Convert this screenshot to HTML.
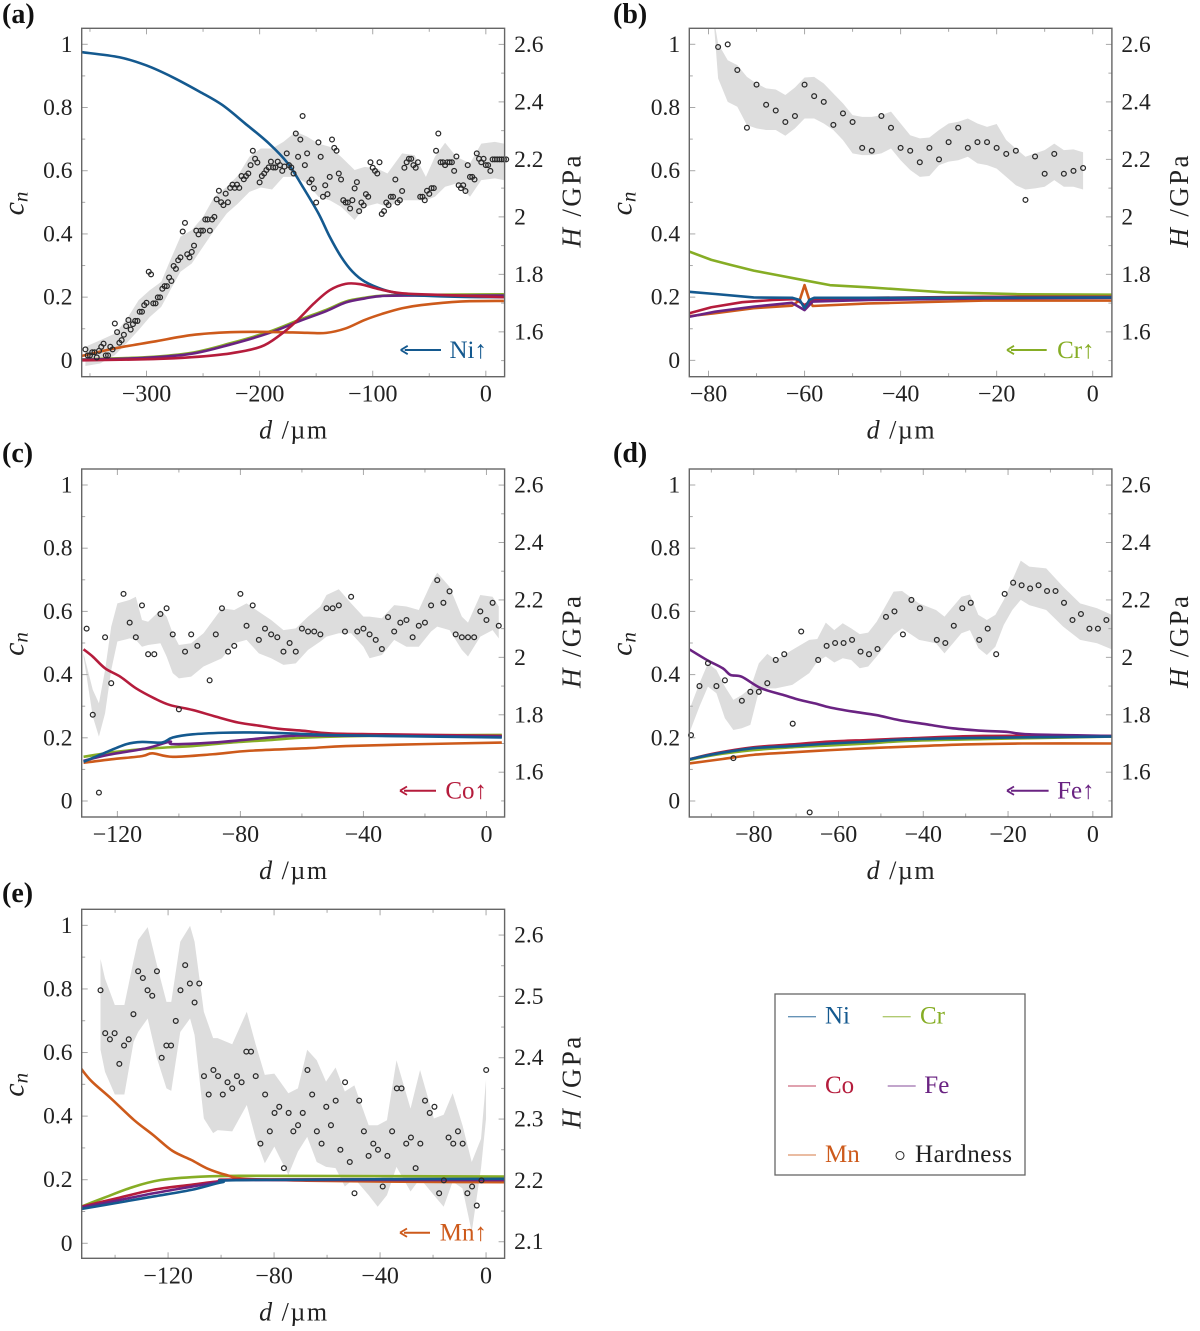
<!DOCTYPE html>
<html>
<head>
<meta charset="utf-8">
<title>Composition and hardness profiles</title>
<style>
html,body{margin:0;padding:0;background:#fff;}
svg{display:block;filter:blur(0.35px);}
text{font-family:"Liberation Serif",serif;fill:#222;}
</style>
</head>
<body>
<svg id="chart" xmlns="http://www.w3.org/2000/svg" width="1200" height="1331" viewBox="0 0 1200 1331"></svg>
<script>
/* ---------- shared tick data ---------- */
const cnTicks=[0,0.2,0.4,0.6,0.8,1];
const cnTickLabels=['0','0.2','0.4','0.6','0.8','1'];
const cnMinorTicks=[0.1,0.3,0.5,0.7,0.9];
const hTicks=[1.6,1.8,2,2.2,2.4,2.6];
const hTickLabels=['1.6','1.8','2','2.2','2.4','2.6'];
const hMinorTicks=[1.5,1.7,1.9,2.1,2.3,2.5];
const hTicksE=[2.1,2.2,2.3,2.4,2.5,2.6];
const hTickLabelsE=['2.1','2.2','2.3','2.4','2.5','2.6'];
const hMinorTicksE=[2.15,2.25,2.35,2.45,2.55];

/* ---------- panel a ---------- */
const xTicksA=[-300,-200,-100,0];
const xMinorA=[-350,-250,-150,-50];
const hardA=[1.539,1.518,1.518,1.529,1.529,1.511,1.534,1.548,1.559,1.518,1.518,1.548,1.539,1.629,1.599,1.562,1.571,1.590,1.620,1.641,1.608,1.627,1.638,1.638,1.670,1.670,1.693,1.701,1.809,1.800,1.699,1.699,1.720,1.720,1.750,1.759,1.759,1.789,1.777,1.829,1.819,1.849,1.859,1.949,1.979,1.870,1.859,1.878,1.900,1.952,1.939,1.952,1.952,1.991,1.991,1.952,1.991,2.000,2.061,2.091,2.051,2.041,2.081,2.051,2.101,2.112,2.101,2.112,2.101,2.142,2.131,2.142,2.151,2.180,2.230,2.202,2.189,2.120,2.142,2.151,2.163,2.172,2.192,2.172,2.172,2.192,2.180,2.160,2.175,2.221,2.180,2.172,2.151,2.290,2.209,2.269,2.351,2.180,2.221,2.120,2.130,2.099,2.050,2.259,2.209,2.070,2.110,2.079,2.139,2.269,2.240,2.230,2.151,2.130,2.058,2.050,2.050,2.029,2.058,2.099,2.121,2.020,2.050,2.040,2.079,2.070,2.190,2.171,2.160,2.151,2.190,2.010,2.020,2.050,2.041,2.070,2.070,2.130,2.050,2.058,2.090,2.171,2.190,2.202,2.202,2.180,2.171,2.190,2.070,2.070,2.058,2.091,2.080,2.100,2.100,2.230,2.290,2.190,2.190,2.180,2.190,2.190,2.190,2.160,2.210,2.110,2.100,2.110,2.090,2.180,2.139,2.139,2.130,2.221,2.202,2.190,2.202,2.180,2.180,2.160,2.200,2.200,2.200,2.200,2.200,2.200,2.200];
const bandDA=[-354,-341,-328,-318,-307,-297,-287,-279,-270,-260,-250,-240,-229,-219,-209,-199,-189,-179,-168,-158,-148,-138,-128,-116,-107,-96,-87,-74,-63,-53,-45,-36,-26,-14,-4,8,16];
const bandUpA=[1.548,1.571,1.594,1.641,1.710,1.745,1.774,1.849,1.931,1.954,2.000,2.070,2.105,2.145,2.209,2.238,2.238,2.261,2.296,2.279,2.255,2.244,2.209,2.163,2.174,2.168,2.151,2.221,2.215,2.139,2.209,2.258,2.209,2.186,2.255,2.261,2.255];
const bandLoA=[1.481,1.490,1.519,1.559,1.606,1.652,1.687,1.745,1.809,1.838,1.896,1.954,2.012,2.047,2.087,2.102,2.095,2.139,2.139,2.116,2.070,2.058,2.035,1.989,2.035,2.047,2.035,2.058,2.058,2.058,2.070,2.105,2.116,2.070,2.128,2.134,2.128];
const dNiA=[-357,-324,-300,-277,-253,-233,-213,-192,-175,-162,-148,-138,-128,-118,-107,-90,-74,-57,-23,16];
const cNiA=[0.975,0.959,0.933,0.896,0.85,0.808,0.75,0.687,0.623,0.55,0.465,0.391,0.328,0.281,0.249,0.223,0.21,0.205,0.201,0.2];
const dCrA=[-357,-300,-260,-226,-192,-165,-141,-124,-107,-90,-57,16];
const cCrA=[0.003,0.01,0.024,0.054,0.09,0.128,0.16,0.186,0.198,0.205,0.207,0.209];
const dCoA=[-357,-294,-260,-226,-199,-182,-168,-152,-138,-124,-111,-94,-74,-40,16];
const cCoA=[0,0.004,0.01,0.022,0.043,0.08,0.122,0.18,0.222,0.242,0.241,0.225,0.212,0.207,0.2];
const dFeA=[-357,-300,-260,-226,-192,-165,-141,-124,-107,-90,-57,16];
const cFeA=[0.002,0.008,0.021,0.05,0.086,0.124,0.156,0.183,0.196,0.204,0.205,0.205];
const dMnA=[-357,-328,-294,-260,-226,-192,-158,-141,-124,-107,-90,-74,-57,-23,16];
const cMnA=[0.014,0.038,0.059,0.08,0.089,0.09,0.087,0.087,0.101,0.128,0.149,0.165,0.175,0.186,0.188];

/* ---------- panel b ---------- */
const xTicksB=[-80,-60,-40,-20,0];
const xMinorB=[-70,-50,-30,-10];
const hardB=[2.591,2.600,2.511,2.310,2.460,2.390,2.370,2.330,2.351,2.460,2.420,2.400,2.320,2.360,2.330,2.240,2.230,2.351,2.310,2.240,2.230,2.190,2.240,2.200,2.260,2.310,2.240,2.260,2.260,2.240,2.219,2.230,2.059,2.210,2.150,2.219,2.150,2.160,2.170];
const bandDB=[-79,-78,-76,-74,-72,-70,-68,-66,-64,-62,-60,-58,-56,-54,-52,-50,-48,-46,-44,-42,-40,-38,-36,-34,-32,-30,-28,-26,-24,-22,-20,-18,-16,-14,-12,-10,-8,-6,-4,-2];
const bandUpB=[2.70,2.603,2.545,2.528,2.487,2.464,2.447,2.443,2.424,2.45,2.485,2.487,2.464,2.429,2.395,2.354,2.348,2.348,2.354,2.366,2.325,2.284,2.273,2.276,2.302,2.325,2.331,2.342,2.325,2.313,2.323,2.267,2.238,2.209,2.221,2.232,2.255,2.232,2.235,2.225];
const bandLoB=[2.70,2.482,2.40,2.383,2.319,2.308,2.302,2.302,2.282,2.308,2.342,2.342,2.325,2.302,2.267,2.221,2.215,2.215,2.221,2.238,2.197,2.163,2.139,2.142,2.18,2.192,2.197,2.209,2.186,2.18,2.168,2.139,2.11,2.095,2.099,2.105,2.128,2.105,2.105,2.095];
const dCrB=[-84,-79.4,-75.4,-70.6,-65.8,-60.3,-54.7,-46.7,-38.7,-30.7,-22.7,-14.8,4];
const cCrB=[0.344,0.318,0.302,0.284,0.27,0.254,0.238,0.231,0.223,0.215,0.212,0.209,0.208];
const dNiB=[-84,-78.6,-70.6,-62.6,-61,-60,-59,-58,-38,4];
const cNiB=[0.217,0.21,0.199,0.198,0.191,0.165,0.191,0.198,0.198,0.199];
const dCoB=[-84,-79.4,-73,-66.6,-61.9,-60,-58.3,-46.7,-22.7,4];
const cCoB=[0.149,0.168,0.184,0.191,0.194,0.175,0.191,0.198,0.201,0.201];
const dFeB=[-84,-78.6,-70.6,-62.6,-60,-58.3,-46.7,-22.7,4];
const cFeB=[0.138,0.154,0.17,0.182,0.159,0.186,0.191,0.196,0.198];
const dMnB=[-84,-78.6,-70.6,-62.6,-61,-60,-59,-58.3,-46.7,-22.7,4];
const cMnB=[0.14,0.149,0.165,0.173,0.191,0.238,0.191,0.172,0.18,0.189,0.189];

/* ---------- panel c ---------- */
const xTicksC=[-120,-80,-40,0];
const xMinorC=[-100,-60,-20];
const hardC=[2.1,1.8,1.529,2.07,1.91,null,2.221,2.121,2.07,2.181,2.011,2.011,2.151,2.171,2.08,1.819,2.02,2.08,2.04,null,1.92,2.08,2.171,2.02,2.04,2.221,2.11,2.181,2.061,2.1,2.08,2.07,2.02,2.05,2.02,2.1,2.09,2.09,2.08,2.171,2.171,2.181,2.09,2.211,2.09,2.1,2.08,2.061,2.029,2.14,2.09,2.121,2.13,2.07,2.11,2.121,2.181,2.269,2.19,2.23,2.08,2.07,2.07,2.07,2.16,2.13,2.19,2.11];
const bandDC=[-131,-128,-126,-124,-122,-120,-116,-114,-112,-110,-106,-104,-102,-100,-96,-92,-86,-82,-78,-74,-70,-66,-62,-58,-54,-52,-48,-44,-40,-38,-34,-30,-26,-22,-18,-16,-12,-8,-6,-2,2,4];
const bandUpC=[2.014,1.887,1.84,1.956,2.107,2.188,2.2,2.211,2.13,2.124,2.165,2.142,2.084,2.043,2.049,2.084,2.171,2.165,2.188,2.159,2.13,2.095,2.101,2.142,2.177,2.217,2.237,2.188,2.142,2.142,2.136,2.182,2.177,2.165,2.258,2.295,2.246,2.142,2.121,2.217,2.211,2.177];
const bandLoC=[2.003,1.794,1.724,1.805,1.956,2.055,2.066,2.061,2.037,2.043,2.049,2.003,1.945,1.927,1.933,1.968,1.997,2.049,2.061,2.014,1.997,1.974,1.979,2.026,2.055,2.072,2.084,2.084,2.037,1.997,2.008,2.061,2.037,2.037,2.09,2.107,2.095,2.026,2.003,2.072,2.095,2.066];
const dCoC=[-131,-128,-124,-119,-114,-108,-103,-95.5,-88,-80.6,-73,-67,-59.4,-50.7,-33,5];
const cCoC=[0.48,0.457,0.42,0.393,0.357,0.325,0.304,0.288,0.267,0.248,0.237,0.228,0.222,0.214,0.211,0.206];
const dNiC=[-131,-124,-117,-112,-105.5,-102,-95.5,-85.6,-77,-64,-52,-33,5];
const cNiC=[0.124,0.153,0.18,0.187,0.185,0.201,0.211,0.216,0.217,0.214,0.209,0.206,0.201];
const dCrC=[-131,-120,-108,-95.5,-83,-70.6,-58,-33,5];
const cCrC=[0.14,0.156,0.167,0.174,0.185,0.193,0.201,0.207,0.209];
const dFeC=[-131,-123,-110.5,-103,-102,-89,-77,-64,-52,5];
const cFeC=[0.127,0.146,0.167,0.188,0.18,0.185,0.195,0.206,0.207,0.204];
const dMnC=[-131,-122,-112,-108.6,-102,-89,-77,-58,-45.7,-20.8,5];
const cMnC=[0.121,0.132,0.142,0.151,0.14,0.148,0.159,0.167,0.174,0.18,0.185];

/* ---------- panel d ---------- */
const xTicksD=[-80,-60,-40,-20,0];
const xMinorD=[-90,-70,-50,-30,-10];
const hardD=[1.729,1.9,1.98,1.9,1.92,1.649,1.849,1.88,1.88,1.91,1.991,2.011,1.769,2.09,1.46,1.991,2.04,2.05,2.05,2.061,2.02,2.011,2.029,2.141,2.16,2.08,2.2,2.171,null,2.061,2.05,2.11,2.171,2.19,2.061,2.1,2.011,2.221,2.26,2.251,2.24,2.251,2.231,2.231,2.19,2.13,2.151,2.1,2.1,2.13];
const bandDD=[-95.2,-92.8,-90.8,-88.8,-86.8,-84.8,-82.8,-80.8,-78.8,-76.8,-74.8,-70.9,-66.9,-65,-63,-61,-59,-57,-55,-53,-51,-47,-45,-41,-37,-35,-31,-29,-27,-25,-23,-21,-19,-17,-15,-11,-7,-3,1,4.5];
const bandUpD=[1.817,1.91,1.979,1.956,1.898,1.852,1.869,1.892,1.979,2.012,1.991,2.026,2.061,2.064,2.121,2.095,2.119,2.101,2.081,2.086,2.124,2.229,2.231,2.188,2.165,2.142,2.211,2.219,2.148,2.13,2.148,2.2,2.269,2.337,2.316,2.31,2.246,2.188,2.171,2.148];
const bandLoD=[1.736,1.829,1.898,1.875,1.788,1.747,1.753,1.765,1.881,1.892,1.892,1.904,1.945,1.985,2.003,1.982,1.997,1.991,1.962,1.968,2.003,2.078,2.101,2.061,2.049,2.014,2.084,2.095,2.032,2.008,2.037,2.113,2.165,2.2,2.182,2.165,2.107,2.061,2.049,2.028];
const dFeD=[-95.2,-91,-87.3,-85.5,-82.8,-78.3,-72.9,-69.2,-65.6,-62,-56.6,-51.1,-45.7,-39.4,-33,-25.8,-20.4,-14.9,4.5];
const cFeD=[0.48,0.446,0.42,0.399,0.393,0.357,0.335,0.32,0.309,0.296,0.283,0.272,0.256,0.243,0.23,0.222,0.219,0.211,0.206];
const dNiD=[-95.2,-89.1,-80.1,-71,-62,-53,-44,-25.8,4.5];
const cNiD=[0.132,0.149,0.167,0.174,0.182,0.188,0.195,0.2,0.204];
const dCoD=[-95.2,-89.1,-80.1,-71,-62,-53,-44,-25.8,4.5];
const cCoD=[0.132,0.151,0.17,0.179,0.188,0.193,0.198,0.206,0.206];
const dCrD=[-95.2,-89.1,-80.1,-71,-62,-53,-44,-25.8,4.5];
const cCrD=[0.13,0.146,0.161,0.17,0.176,0.182,0.19,0.196,0.204];
const dMnD=[-95.2,-87.3,-80.1,-71,-62,-53,-44,-30.3,-16.7,4.5];
const cMnD=[0.119,0.133,0.146,0.154,0.161,0.167,0.172,0.179,0.182,0.182];

/* ---------- panel e ---------- */
const xTicksE=[-120,-80,-40,0];
const xMinorE=[-140,-100,-60,-20];
const hardE=[2.510,2.440,2.430,2.440,2.390,2.420,2.430,2.471,2.541,2.530,2.510,2.501,2.541,2.400,2.420,2.420,2.460,2.510,2.551,2.521,2.490,2.521,2.370,2.340,2.380,2.370,2.340,2.360,2.350,2.370,2.360,2.410,2.410,2.370,2.260,2.340,2.280,2.310,2.320,2.220,2.310,2.280,2.290,2.310,2.380,2.340,2.280,2.260,2.320,2.290,2.330,2.250,2.360,2.230,2.179,2.330,2.280,2.240,2.260,2.250,2.190,2.240,2.280,2.350,2.350,2.260,2.270,2.220,2.260,2.330,2.310,2.320,2.179,2.200,2.270,2.260,2.280,2.260,2.179,2.190,2.159,2.200,2.380];
const bandDE=[-145.5,-143.8,-140.1,-136.5,-133,-131.3,-127.7,-124.2,-120.6,-118.8,-115.4,-111.7,-110,-106.5,-103,-101.3,-95.8,-90.3,-86.9,-83.5,-79.9,-74.6,-71,-67.5,-63.9,-60.4,-56.8,-53.3,-49.7,-44.3,-40.9,-37.4,-33.8,-28.5,-24.9,-19.7,-16,-12.6,-8.9,-5.4,-1.9,0];
const bandUpE=[2.561,2.529,2.486,2.486,2.559,2.592,2.613,2.551,2.491,2.491,2.589,2.615,2.589,2.475,2.432,2.432,2.422,2.475,2.421,2.372,2.374,2.342,2.35,2.413,2.396,2.361,2.384,2.345,2.355,2.29,2.29,2.298,2.396,2.317,2.38,2.301,2.307,2.342,2.29,2.23,2.268,2.364];
const bandLoE=[2.413,2.377,2.34,2.34,2.426,2.442,2.464,2.399,2.35,2.346,2.442,2.464,2.437,2.301,2.277,2.282,2.28,2.323,2.268,2.228,2.255,2.209,2.247,2.271,2.23,2.222,2.22,2.19,2.203,2.176,2.157,2.176,2.222,2.182,2.203,2.176,2.157,2.198,2.187,2.116,2.22,2.301];
const dMnE=[-152.8,-148.8,-141.6,-132.9,-125.7,-118.4,-111.2,-105.4,-98.1,-90.9,-67.7,-38.7,7];
const cMnE=[0.549,0.509,0.456,0.388,0.341,0.291,0.262,0.236,0.215,0.203,0.197,0.194,0.192];
const dCrE=[-152.8,-144.5,-132.9,-122.8,-111.2,-96.7,-67.7,7];
const cCrE=[0.115,0.142,0.178,0.199,0.208,0.212,0.212,0.21];
const dNiE=[-152.8,-140.1,-125.7,-111.2,-99.6,-90.9,7];
const cNiE=[0.108,0.126,0.147,0.168,0.192,0.199,0.203];
const dCoE=[-152.8,-140.1,-125.7,-111.2,-99.6,-90.9,7];
const cCoE=[0.115,0.14,0.168,0.184,0.196,0.201,0.201];
const dFeE=[-152.8,-140.1,-125.7,-111.2,-99.6,-90.9,7];
const cFeE=[0.112,0.133,0.157,0.178,0.194,0.199,0.199];

/* ---------- element colours ---------- */
const colors={Ni:'#14598f',Cr:'#86ad25',Co:'#b51c3c',Fe:'#6a2382',Mn:'#cd5a1b'};

/* ---------- panel layout ---------- */
const panels=[
 {id:'a',lab:'(a)',labX:2,labY:23,smooth:true,box:[81.7,504.6,28.3,376.7],xDom:[-357.3,16.6],cnDom:[-0.0517,1.0506],hDom:[1.444,2.656],xT:xTicksA,xM:xMinorA,hT:hTicks,hL:hTickLabels,hM:hMinorTicks,
  hard:hardA,hStart:-354,hStep:2,bD:bandDA,bU:bandUpA,bL:bandLoA,
  curves:[['Cr',dCrA,cCrA],['Fe',dFeA,cFeA],['Mn',dMnA,cMnA],['Ni',dNiA,cNiA],['Co',dCoA,cCoA]],
  note:'Ni',noteC:'Ni',arrow:[441,400.7],arrowY:350,noteEnd:487},
 {id:'b',lab:'(b)',labX:613,labY:23,smooth:false,box:[689.3,1111.9,28.3,376.7],xDom:[-84,4],cnDom:[-0.0517,1.0506],hDom:[1.444,2.656],xT:xTicksB,xM:xMinorB,hT:hTicks,hL:hTickLabels,hM:hMinorTicks,
  hard:hardB,hStart:-78,hStep:2,bD:bandDB,bU:bandUpB,bL:bandLoB,
  curves:[['Cr',dCrB,cCrB],['Mn',dMnB,cMnB],['Co',dCoB,cCoB],['Fe',dFeB,cFeB],['Ni',dNiB,cNiB]],
  note:'Cr',noteC:'Cr',arrow:[1046.7,1007],arrowY:350,noteEnd:1094.6},
 {id:'c',lab:'(c)',labX:2,labY:462,smooth:true,box:[81.7,504.6,469,817],xDom:[-131.6,5.9],cnDom:[-0.0506,1.0506],hDom:[1.444,2.656],xT:xTicksC,xM:xMinorC,hT:hTicks,hL:hTickLabels,hM:hMinorTicks,
  hard:hardC,hStart:-130,hStep:2,bD:bandDC,bU:bandUpC,bL:bandLoC,
  curves:[['Cr',dCrC,cCrC],['Mn',dMnC,cMnC],['Co',dCoC,cCoC],['Fe',dFeC,cFeC],['Ni',dNiC,cNiC]],
  note:'Co',noteC:'Co',arrow:[436,400],arrowY:790.7,noteEnd:487},
 {id:'d',lab:'(d)',labX:613,labY:462,smooth:true,box:[689.3,1111.9,469,817],xDom:[-95.2,4.5],cnDom:[-0.0506,1.0506],hDom:[1.444,2.656],xT:xTicksD,xM:xMinorD,hT:hTicks,hL:hTickLabels,hM:hMinorTicks,
  hard:hardD,hStart:-94.8,hStep:2,bD:bandDD,bU:bandUpD,bL:bandLoD,
  curves:[['Cr',dCrD,cCrD],['Mn',dMnD,cMnD],['Co',dCoD,cCoD],['Fe',dFeD,cFeD],['Ni',dNiD,cNiD]],
  note:'Fe',noteC:'Fe',arrow:[1048.6,1007],arrowY:790.7,noteEnd:1094.6},
 {id:'e',lab:'(e)',labX:2,labY:902,smooth:true,box:[81.7,504.6,909.3,1258.3],xDom:[-152.6,7],cnDom:[-0.0472,1.0505],hDom:[2.073,2.642],xT:xTicksE,xM:xMinorE,hT:hTicksE,hL:hTickLabelsE,hM:hMinorTicksE,
  hard:hardE,hStart:-145.5,hStep:1.775,bD:bandDE,bU:bandUpE,bL:bandLoE,
  curves:[['Cr',dCrE,cCrE],['Mn',dMnE,cMnE],['Co',dCoE,cCoE],['Fe',dFeE,cFeE],['Ni',dNiE,cNiE]],
  note:'Mn',noteC:'Mn',arrow:[430,400],arrowY:1232.7,noteEnd:487}
];

const svg=document.getElementById('chart');
const NS='http://www.w3.org/2000/svg';
function mk(tag,attrs,parent){
  const e=document.createElementNS(NS,tag);
  for(const k in attrs){e.setAttribute(k,attrs[k]);}
  (parent||svg).appendChild(e);
  return e;
}
function fmtX(v){return v<0?'\u2212'+Math.abs(v):String(v);}
function linePath(xs,ys){
  return xs.map(function(x,i){return (i?'L':'M')+x.toFixed(2)+' '+ys[i].toFixed(2);}).join('');
}
function smoothPath(xs,ys){
  let s='M'+xs[0].toFixed(2)+' '+ys[0].toFixed(2);
  for(let i=0;i<xs.length-1;i++){
    const a=Math.max(i-1,0),d=Math.min(i+2,xs.length-1);
    const c1x=xs[i]+(xs[i+1]-xs[a])/6,c1y=ys[i]+(ys[i+1]-ys[a])/6;
    const c2x=xs[i+1]-(xs[d]-xs[i])/6,c2y=ys[i+1]-(ys[d]-ys[i])/6;
    s+='C'+c1x.toFixed(2)+' '+c1y.toFixed(2)+' '+c2x.toFixed(2)+' '+c2y.toFixed(2)+' '+xs[i+1].toFixed(2)+' '+ys[i+1].toFixed(2);
  }
  return s;
}

panels.forEach(function(p){
  const l=p.box[0],r=p.box[1],t=p.box[2],b=p.box[3];
  const xScale=function(d){return l+(d-p.xDom[0])/(p.xDom[1]-p.xDom[0])*(r-l);};
  const cnScale=function(c){return b-(c-p.cnDom[0])/(p.cnDom[1]-p.cnDom[0])*(b-t);};
  const hScale=function(h){return b-(h-p.hDom[0])/(p.hDom[1]-p.hDom[0])*(b-t);};

  const g=mk('g',{});
  
  

  const clip=mk('clipPath',{id:'clip-'+p.id},g);
  mk('rect',{x:l,y:t,width:r-l,height:b-t},clip);

  const panelLabel=mk('text',{x:p.labX,y:p.labY,'font-size':28,'font-weight':'bold',style:'fill:#111'},g);
  panelLabel.textContent=p.lab;
  
  

  /* hardness scatter band */
  const bx=p.bD.map(xScale).concat(p.bD.map(xScale).reverse());
  const by=p.bU.map(hScale).concat(p.bL.map(hScale).reverse());
  const band=mk('path',{d:linePath(bx,by)+'Z',fill:'#dddddd',stroke:'none','clip-path':'url(#clip-'+p.id+')'},g);
  
  

  /* ticks */
  const tickG=mk('g',{stroke:'#a8a8a8','stroke-width':1,fill:'none'},g);
  
  
  function tick(x1,y1,x2,y2){mk('line',{x1:x1,y1:y1,x2:x2,y2:y2},tickG);}
  p.xT.forEach(function(v){const x=xScale(v);tick(x,b,x,b-6);tick(x,t,x,t+6);});
  p.xM.forEach(function(v){const x=xScale(v);tick(x,b,x,b-3.5);tick(x,t,x,t+3.5);});
  cnTicks.forEach(function(v){const y=cnScale(v);tick(l,y,l+6,y);});
  cnMinorTicks.forEach(function(v){const y=cnScale(v);tick(l,y,l+3.5,y);});
  p.hT.forEach(function(v){const y=hScale(v);tick(r,y,r-6,y);});
  p.hM.forEach(function(v){const y=hScale(v);tick(r,y,r-3.5,y);});

  /* composition curves */
  p.curves.forEach(function(c){
    const xs=c[1].map(xScale),ys=c[2].map(cnScale);
    const path=mk('path',{d:p.smooth?smoothPath(xs,ys):linePath(xs,ys),fill:'none',stroke:colors[c[0]],'stroke-width':2.6,'stroke-linejoin':'round','clip-path':'url(#clip-'+p.id+')'},g);
    
    
  });

  /* hardness points */
  const pts=mk('g',{fill:'none',stroke:'#2a2a2a','stroke-width':1.25},g);
  
  
  p.hard.forEach(function(h,i){
    if(h===null)return;
    const c=mk('circle',{cx:xScale(p.hStart+i*p.hStep),cy:hScale(h),r:2.4},pts);
    
    
  });

  /* frame */
  const frame=mk('rect',{x:l,y:t,width:r-l,height:b-t,fill:'none',stroke:'#666','stroke-width':1.4},g);
  
  

  /* tick labels */
  p.xT.forEach(function(v){
    const e=mk('text',{x:xScale(v),y:b+25,'font-size':24,'text-anchor':'middle'},g);
    e.textContent=fmtX(v);
    
    
  });
  cnTicks.forEach(function(v,i){
    const e=mk('text',{x:72.5+(l-81.7),y:cnScale(v)+7.5,'font-size':23.5,'text-anchor':'end'},g);
    e.textContent=cnTickLabels[i];
    
    
  });
  p.hT.forEach(function(v,i){
    const e=mk('text',{x:r+9.5,y:hScale(v)+7.5,'font-size':23.5},g);
    e.textContent=p.hL[i];
    
    
  });

  /* axis titles */
  const xt=mk('text',{x:(l+r)/2,y:b+62,'font-size':26,'text-anchor':'middle',textLength:68,lengthAdjust:'spacing'},g);
  
  
  const xt1=mk('tspan',{'font-style':'italic'},xt);xt1.textContent='d';
  const xt2=mk('tspan',{},xt);xt2.textContent=' /\u00b5m';

  const midY=(t+b)/2;
  const yt=mk('text',{x:0,y:0,'font-size':30,'text-anchor':'middle',transform:'translate('+(l-58)+' '+(midY+1)+') rotate(-90)'},g);
  
  
  const yt1=mk('tspan',{'font-style':'italic'},yt);yt1.textContent='c';
  const yt2=mk('tspan',{'font-style':'italic','font-size':21,dy:4},yt);yt2.textContent='n';

  const rt=mk('text',{x:0,y:0,'font-size':27,'text-anchor':'middle',textLength:92,lengthAdjust:'spacing',transform:'translate('+(r+76)+' '+(midY-1)+') rotate(-90)'},g);
  
  
  const rt1=mk('tspan',{'font-style':'italic'},rt);rt1.textContent='H';
  const rt2=mk('tspan',{},rt);rt2.textContent=' /GPa';

  /* direction annotation */
  const col=colors[p.noteC];
  const ar=mk('line',{x1:p.arrow[0],y1:p.arrowY,x2:p.arrow[1]+4,y2:p.arrowY,stroke:col,'stroke-width':2},g);
  
  
  const hd=mk('path',{d:'M'+p.arrow[1]+' '+p.arrowY+'l7 -4.2M'+p.arrow[1]+' '+p.arrowY+'l7 4.2',stroke:col,'stroke-width':1.8,fill:'none'},g);
  
  
  const nt=mk('text',{x:p.noteEnd,y:p.arrowY+8,'font-size':25,'text-anchor':'end',style:'fill:'+col},g);
  nt.textContent=p.note+'\u2191';
  
  
});

/* ---------- legend ---------- */
const legendEntries=['Ni','Cr','Co','Fe','Mn'];
const legendG=mk('g',{});


const legendBox=mk('rect',{x:775,y:994,width:250,height:181,fill:'#fff',stroke:'#666','stroke-width':1.3},legendG);


const legendLayout={Ni:[788,825,1016.7],Cr:[882.7,920,1016.7],Co:[788,825,1086],Fe:[887.7,924.3,1086],Mn:[788,825,1155]};
legendEntries.forEach(function(n){
  const q=legendLayout[n];
  const ln=mk('line',{x1:q[0],x2:q[0]+28,y1:q[2],y2:q[2],stroke:colors[n],'stroke-width':1.3,'stroke-opacity':0.65},legendG);
  
  
  const tx=mk('text',{x:q[1],y:q[2]+7,'font-size':25,style:'fill:'+colors[n]},legendG);
  tx.textContent=n;
  
  
});
const legendMarker=mk('circle',{cx:900,cy:1155.5,r:4,fill:'none',stroke:'#333','stroke-width':1.1},legendG);


const legendHard=mk('text',{x:915,y:1162,'font-size':25,textLength:97,lengthAdjust:'spacing'},legendG);
legendHard.textContent='Hardness';


</script>
</body>
</html>
